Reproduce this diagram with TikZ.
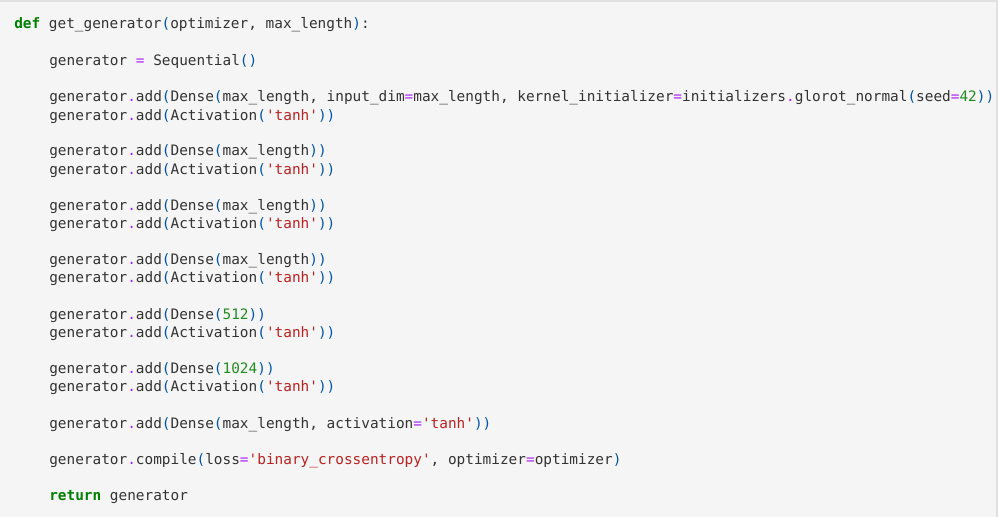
\documentclass[tikz,border=0pt]{standalone}
\usepackage{fontspec}
\setmonofont{DejaVu Sans Mono}
\definecolor{bgc}{HTML}{F5F5F5}
\definecolor{brd}{HTML}{E0E0E0}
\definecolor{txt}{HTML}{333333}
\definecolor{kw}{HTML}{008000}
\definecolor{num}{HTML}{228B22}
\definecolor{str}{HTML}{BA2121}
\definecolor{op}{HTML}{AA22FF}
\definecolor{par}{HTML}{0055AA}
\newcommand{\cK}[1]{\textcolor{kw}{\bfseries #1}}
\newcommand{\cN}[1]{\textcolor{num}{#1}}
\newcommand{\cS}[1]{\textcolor{str}{#1}}
\newcommand{\cO}[1]{\textcolor{op}{#1}}
\newcommand{\cP}[1]{\textcolor{par}{#1}}
\begin{document}
\begin{tikzpicture}[x=0.75pt,y=-0.75pt,
  codeline/.style={anchor=base west,inner sep=0pt,font=\ttfamily\fontsize{10.8}{13}\selectfont,text=txt}]
\useasboundingbox (0,0) rectangle (1000,517);
\fill[bgc] (0,0) rectangle (997,517);
\draw[brd,line width=1.2pt] (0,1) -- (997,1) -- (997,517);
\node[codeline] (l1) at (14,29) {\cK{def} get\_generator\cP{(}optimizer, max\_length\cP{)}:};
\node[codeline] (l2) at (49,65) {generator \cO{=} Sequential\cP{()}};
\node[codeline] (l3) at (49,102) {generator\cO{.}add\cP{(}Dense\cP{(}max\_length, input\_dim\cO{=}max\_length, kernel\_initializer\cO{=}initializers\cO{.}glorot\_normal\cP{(}seed\cO{=}\cN{42}\cP{))}};
\node[codeline] (l4) at (49,120) {generator\cO{.}add\cP{(}Activation\cP{(}\cS{'tanh'}\cP{))}};
\node[codeline] (l5) at (49,156) {generator\cO{.}add\cP{(}Dense\cP{(}max\_length\cP{))}};
\node[codeline] (l6) at (49,174) {generator\cO{.}add\cP{(}Activation\cP{(}\cS{'tanh'}\cP{))}};
\node[codeline] (l7) at (49,210) {generator\cO{.}add\cP{(}Dense\cP{(}max\_length\cP{))}};
\node[codeline] (l8) at (49,228) {generator\cO{.}add\cP{(}Activation\cP{(}\cS{'tanh'}\cP{))}};
\node[codeline] (l9) at (49,264) {generator\cO{.}add\cP{(}Dense\cP{(}max\_length\cP{))}};
\node[codeline] (l10) at (49,282) {generator\cO{.}add\cP{(}Activation\cP{(}\cS{'tanh'}\cP{))}};
\node[codeline] (l11) at (49,319) {generator\cO{.}add\cP{(}Dense\cP{(}\cN{512}\cP{))}};
\node[codeline] (l12) at (49,337) {generator\cO{.}add\cP{(}Activation\cP{(}\cS{'tanh'}\cP{))}};
\node[codeline] (l13) at (49,373) {generator\cO{.}add\cP{(}Dense\cP{(}\cN{1024}\cP{))}};
\node[codeline] (l14) at (49,391) {generator\cO{.}add\cP{(}Activation\cP{(}\cS{'tanh'}\cP{))}};
\node[codeline] (l15) at (49,428) {generator\cO{.}add\cP{(}Dense\cP{(}max\_length, activation\cO{=}\cS{'tanh'}\cP{))}};
\node[codeline] (l16) at (49,464) {generator\cO{.}compile\cP{(}loss\cO{=}\cS{'binary\_crossentropy'}, optimizer\cO{=}optimizer\cP{)}};
\node[codeline] (l17) at (49,500) {\cK{return} generator};
\end{tikzpicture}
\end{document}
